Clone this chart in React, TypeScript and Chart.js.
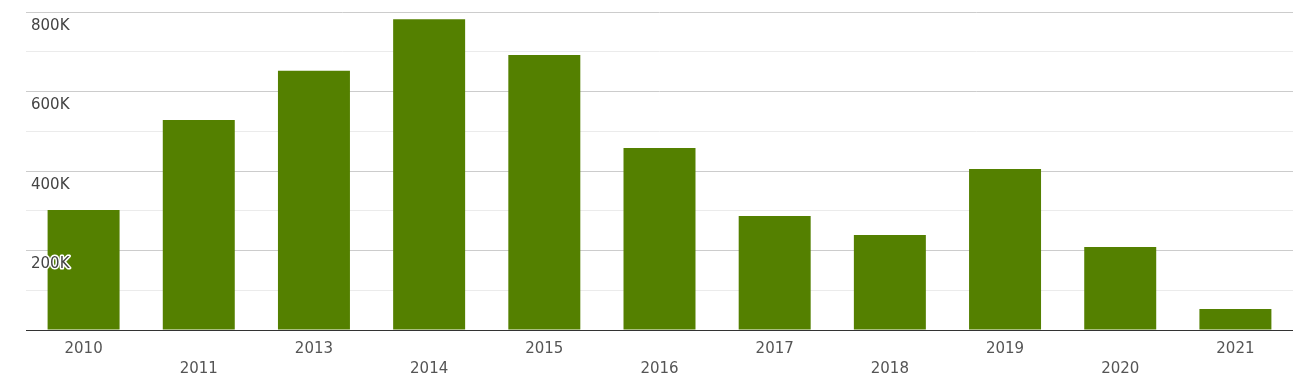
import React, { useEffect, useRef } from "react";
import { Chart, registerables } from "chart.js";

Chart.register(...registerables);

const years = ["2010", "2011", "2013", "2014", "2015", "2016", "2017", "2018", "2019", "2020", "2021"];
const values = [302000, 528000, 652000, 782000, 692000, 458000, 287000, 239000, 405000, 209000, 53000];
const yLabelValues = [200000, 400000, 600000, 800000];
const yLabelTexts = ["200K", "400K", "600K", "800K"];

const FONT = "DejaVu Sans";

const yLabelPlugin = {
  id: "yLabels",
  afterDatasetsDraw(chart: any) {
    const ctx = chart.ctx;
    const y = chart.scales.y;
    const left = chart.chartArea.left;
    ctx.save();
    ctx.font = `15px "${FONT}"`;
    ctx.textAlign = "left";
    ctx.textBaseline = "middle";
    ctx.lineJoin = "round";
    yLabelValues.forEach((v, i) => {
      const py = y.getPixelForValue(v) + 14;
      ctx.strokeStyle = "#ffffff";
      ctx.lineWidth = 3;
      ctx.strokeText(yLabelTexts[i], left + 5, py);
      ctx.fillStyle = "#444444";
      ctx.fillText(yLabelTexts[i], left + 5, py);
    });
    ctx.restore();
  },
};

export default function App() {
  const ref = useRef<HTMLCanvasElement | null>(null);
  useEffect(() => {
    if (!ref.current) return;
    const chart = new Chart(ref.current, {
      type: "bar",
      data: {
        labels: years,
        datasets: [
          {
            data: values,
            backgroundColor: "#548000",
            borderWidth: 0,
            barPercentage: 0.625,
            categoryPercentage: 1,
          },
        ],
      },
      options: {
        animation: false,
        responsive: true,
        maintainAspectRatio: false,
        layout: { padding: { left: 26, top: 12, right: 0, bottom: 0 } },
        plugins: { legend: { display: false }, tooltip: { enabled: false } },
        scales: {
          x: {
            afterFit: (s: any) => {
              s.height = 54;
            },
            grid: { display: false, drawTicks: false },
            border: { display: true, color: "#333333", width: 1 },
            ticks: {
              autoSkip: false,
              maxRotation: 0,
              minRotation: 0,
              padding: 9,
              color: "#555555",
              font: { family: FONT, size: 15, lineHeight: "20px" },
              callback: (_v: any, i: number) => (i % 2 === 0 ? years[i] : ["", years[i]]),
            },
          },
          y: {
            min: 0,
            max: 800000,
            grid: {
              drawTicks: false,
              color: (c: any) => (c.tick && c.tick.value % 200000 === 0 ? "#cccccc" : "#ebebeb"),
            },
            border: { display: false },
            ticks: { display: false, stepSize: 100000 },
          },
        },
      },
      plugins: [yLabelPlugin],
    });
    return () => chart.destroy();
  }, []);
  return (
    <div style={{ position: "absolute", left: 0, top: 0, width: 1293, height: 384 }}>
      <canvas ref={ref} />
    </div>
  );
}
